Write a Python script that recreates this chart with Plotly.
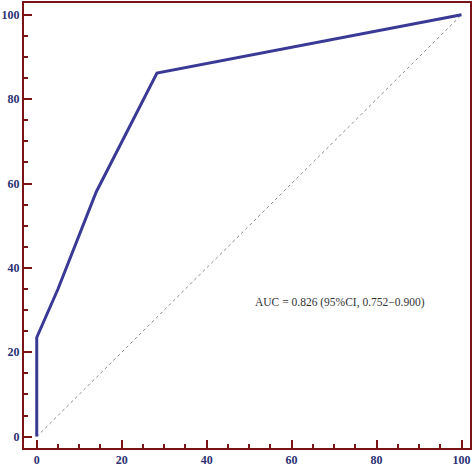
import plotly.graph_objects as go

# ROC curve values (1 - specificity %, sensitivity %)
fpr = [0, 0, 5, 14, 28.3, 100]
tpr = [0, 23.5, 35, 58, 86.2, 100]
ref_x = [0, 100]
ref_y = [0, 100]
tick_vals = [0, 20, 40, 60, 80, 100]
auc_text = "AUC = 0.826 (95%CI, 0.752\u22120.900)"

axis_color = "#7b1416"
label_color = "#2b3272"
serif = "Liberation Serif, Times New Roman, serif"

fig = go.Figure()
fig.add_trace(go.Scatter(x=ref_x, y=ref_y, mode="lines",
                         line=dict(color="#8a8a8a", width=1, dash="dot"),
                         hoverinfo="skip"))
fig.add_trace(go.Scatter(x=fpr, y=tpr, mode="lines",
                         line=dict(color="#3a3a96", width=3)))

common = dict(
    showgrid=False, zeroline=False, showline=True, linecolor=axis_color,
    linewidth=2, mirror=True, ticks="inside", ticklen=8, tickwidth=2,
    tickcolor=axis_color, tickvals=tick_vals, automargin=False,
    tickfont=dict(family=serif, size=12, color=label_color, weight="bold"),
    minor=dict(ticks="inside", ticklen=4, tickwidth=1.5, tickcolor=axis_color, dtick=5),
)
fig.update_xaxes(range=[-3, 102], **common)
fig.update_yaxes(range=[-2.7, 102.8], **common)

fig.add_annotation(x=50.8, y=31.7, xanchor="left", yanchor="middle",
                   text=auc_text, showarrow=False,
                   font=dict(family=serif, size=11.5, color="#333333"))

fig.update_layout(
    width=474, height=474, showlegend=False,
    margin=dict(l=24, r=4, t=3, b=26),
    plot_bgcolor="white", paper_bgcolor="white",
)
fig.write_html("out.html", config={"displayModeBar": False},
               post_script="document.body.style.margin='0';")
